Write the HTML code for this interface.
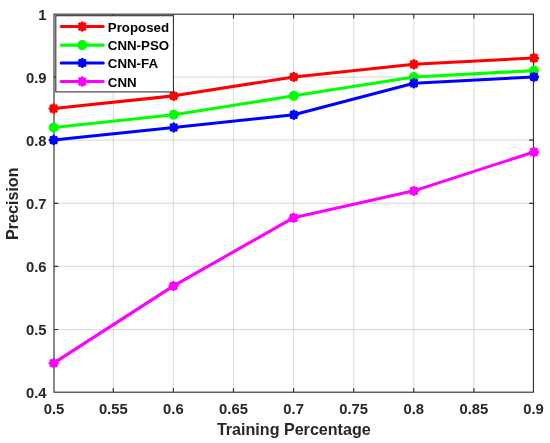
<!DOCTYPE html>
<html><head><meta charset="utf-8"><title>Precision vs Training Percentage</title>
<style>
html,body{margin:0;padding:0;background:#fff;}
body{width:550px;height:443px;overflow:hidden;}
svg{display:block;}
text{font-family:"Liberation Sans",Arial,Helvetica,sans-serif;font-weight:bold;fill:#262626;}
.tk{font-size:14.8px;}
.lb{font-size:16.1px;}
.lg{font-size:13.3px;fill:#000;}
</style></head><body>
<svg width="550" height="443" viewBox="0 0 550 443">
<rect width="550" height="443" fill="#fff"/>
<path d="M113.30 14.2V392.2M173.40 14.2V392.2M233.50 14.2V392.2M293.60 14.2V392.2M353.70 14.2V392.2M413.80 14.2V392.2M473.90 14.2V392.2" stroke="#262626" stroke-opacity="0.14" stroke-width="1.2" fill="none"/>
<path d="M54.0 329.54H533.45M54.0 266.42H533.45M54.0 203.30H533.45M54.0 140.18H533.45M54.0 77.06H533.45" stroke="#262626" stroke-opacity="0.14" stroke-width="1.2" fill="none"/>
<rect x="54.0" y="14.2" width="479.45" height="378.00" fill="none" stroke="#333333" stroke-width="1.15"/>
<path d="M113.30 392.2v-4.3M113.30 14.2v4.3M173.40 392.2v-4.3M173.40 14.2v4.3M233.50 392.2v-4.3M233.50 14.2v4.3M293.60 392.2v-4.3M293.60 14.2v4.3M353.70 392.2v-4.3M353.70 14.2v4.3M413.80 392.2v-4.3M413.80 14.2v4.3M473.90 392.2v-4.3M473.90 14.2v4.3M54.0 329.54h4.3M533.45 329.54h-4.3M54.0 266.42h4.3M533.45 266.42h-4.3M54.0 203.30h4.3M533.45 203.30h-4.3M54.0 140.18h4.3M533.45 140.18h-4.3M54.0 77.06h4.3M533.45 77.06h-4.3" stroke="#333333" stroke-width="1.15" fill="none"/>
<text class="tk" x="54.00" y="413.7" text-anchor="middle">0.5</text>
<text class="tk" x="113.30" y="413.7" text-anchor="middle">0.55</text>
<text class="tk" x="173.40" y="413.7" text-anchor="middle">0.6</text>
<text class="tk" x="233.50" y="413.7" text-anchor="middle">0.65</text>
<text class="tk" x="293.60" y="413.7" text-anchor="middle">0.7</text>
<text class="tk" x="353.70" y="413.7" text-anchor="middle">0.75</text>
<text class="tk" x="413.80" y="413.7" text-anchor="middle">0.8</text>
<text class="tk" x="473.90" y="413.7" text-anchor="middle">0.85</text>
<text class="tk" x="533.45" y="413.7" text-anchor="middle">0.9</text>
<text class="tk" x="46.5" y="397.90" text-anchor="end">0.4</text>
<text class="tk" x="46.5" y="335.24" text-anchor="end">0.5</text>
<text class="tk" x="46.5" y="272.12" text-anchor="end">0.6</text>
<text class="tk" x="46.5" y="209.00" text-anchor="end">0.7</text>
<text class="tk" x="46.5" y="145.88" text-anchor="end">0.8</text>
<text class="tk" x="46.5" y="82.76" text-anchor="end">0.9</text>
<text class="tk" x="46.5" y="19.90" text-anchor="end">1</text>
<text class="lb" x="293.8" y="434.8" text-anchor="middle">Training Percentage</text>
<text class="lb" transform="translate(18.2 203.7) rotate(-90)" text-anchor="middle">Precision</text>
<polyline points="53.65,108.49 173.72,95.86 293.80,76.92 413.88,64.29 533.95,57.98" fill="none" stroke="#ff0000" stroke-width="3.05" stroke-linejoin="round"/>
<path stroke="#ff0000" stroke-width="3.1" stroke-linecap="round" fill="none" d="M50.00 108.49H57.30M53.65 104.84V112.14M51.07 105.91L56.23 111.07M51.07 111.07L56.23 105.91"/>
<path stroke="#ff0000" stroke-width="3.1" stroke-linecap="round" fill="none" d="M170.07 95.86H177.37M173.72 92.21V99.51M171.14 93.28L176.31 98.44M171.14 98.44L176.31 93.28"/>
<path stroke="#ff0000" stroke-width="3.1" stroke-linecap="round" fill="none" d="M290.15 76.92H297.45M293.80 73.27V80.57M291.22 74.34L296.38 79.50M291.22 79.50L296.38 74.34"/>
<path stroke="#ff0000" stroke-width="3.1" stroke-linecap="round" fill="none" d="M410.23 64.29H417.53M413.88 60.64V67.94M411.29 61.71L416.46 66.87M411.29 66.87L416.46 61.71"/>
<path stroke="#ff0000" stroke-width="3.1" stroke-linecap="round" fill="none" d="M530.30 57.98H537.60M533.95 54.33V61.63M531.37 55.40L536.53 60.56M531.37 60.56L536.53 55.40"/>
<polyline points="53.65,127.43 173.72,114.80 293.80,95.86 413.88,76.92 533.95,70.61" fill="none" stroke="#00ff00" stroke-width="3.05" stroke-linejoin="round"/>
<circle cx="53.65" cy="127.43" r="5" fill="#00ff00"/>
<circle cx="173.72" cy="114.80" r="5" fill="#00ff00"/>
<circle cx="293.80" cy="95.86" r="5" fill="#00ff00"/>
<circle cx="413.88" cy="76.92" r="5" fill="#00ff00"/>
<circle cx="533.95" cy="70.61" r="5" fill="#00ff00"/>
<polyline points="53.65,140.06 173.72,127.43 293.80,114.80 413.88,83.23 533.95,76.92" fill="none" stroke="#0000ff" stroke-width="3.05" stroke-linejoin="round"/>
<path stroke="#0000ff" stroke-width="3.1" stroke-linecap="round" fill="none" d="M50.00 140.06H57.30M53.65 136.41V143.71M51.07 137.48L56.23 142.64M51.07 142.64L56.23 137.48"/>
<path stroke="#0000ff" stroke-width="3.1" stroke-linecap="round" fill="none" d="M170.07 127.43H177.37M173.72 123.78V131.08M171.14 124.85L176.31 130.01M171.14 130.01L176.31 124.85"/>
<path stroke="#0000ff" stroke-width="3.1" stroke-linecap="round" fill="none" d="M290.15 114.80H297.45M293.80 111.15V118.45M291.22 112.22L296.38 117.38M291.22 117.38L296.38 112.22"/>
<path stroke="#0000ff" stroke-width="3.1" stroke-linecap="round" fill="none" d="M410.23 83.23H417.53M413.88 79.58V86.88M411.29 80.65L416.46 85.81M411.29 85.81L416.46 80.65"/>
<path stroke="#0000ff" stroke-width="3.1" stroke-linecap="round" fill="none" d="M530.30 76.92H537.60M533.95 73.27V80.57M531.37 74.34L536.53 79.50M531.37 79.50L536.53 74.34"/>
<polyline points="53.65,363.10 173.50,285.85 293.60,217.70 413.85,190.85 534.00,152.00" fill="none" stroke="#ff00ff" stroke-width="3.05" stroke-linejoin="round"/>
<path stroke="#ff00ff" stroke-width="3.1" stroke-linecap="round" fill="none" d="M50.00 363.10H57.30M53.65 359.45V366.75M51.07 360.52L56.23 365.68M51.07 365.68L56.23 360.52"/>
<path stroke="#ff00ff" stroke-width="3.1" stroke-linecap="round" fill="none" d="M169.85 285.85H177.15M173.50 282.20V289.50M170.92 283.27L176.08 288.43M170.92 288.43L176.08 283.27"/>
<path stroke="#ff00ff" stroke-width="3.1" stroke-linecap="round" fill="none" d="M289.95 217.70H297.25M293.60 214.05V221.35M291.02 215.12L296.18 220.28M291.02 220.28L296.18 215.12"/>
<path stroke="#ff00ff" stroke-width="3.1" stroke-linecap="round" fill="none" d="M410.20 190.85H417.50M413.85 187.20V194.50M411.27 188.27L416.43 193.43M411.27 193.43L416.43 188.27"/>
<path stroke="#ff00ff" stroke-width="3.1" stroke-linecap="round" fill="none" d="M530.35 152.00H537.65M534.00 148.35V155.65M531.42 149.42L536.58 154.58M531.42 154.58L536.58 149.42"/>
<rect x="55.8" y="15.7" width="117.65" height="76.2" fill="#fff" stroke="#333333" stroke-width="1.1"/>
<path d="M61.2 26.55H103.2" stroke="#ff0000" stroke-width="3.05" stroke-linecap="round" fill="none"/>
<path stroke="#ff0000" stroke-width="3.1" stroke-linecap="round" fill="none" d="M78.55 26.55H85.85M82.20 22.90V30.20M79.62 23.97L84.78 29.13M79.62 29.13L84.78 23.97"/>
<text class="lg" x="107.8" y="31.55">Proposed</text>
<path d="M61.2 45.1H103.2" stroke="#00ff00" stroke-width="3.05" stroke-linecap="round" fill="none"/>
<circle cx="82.20" cy="45.10" r="5" fill="#00ff00"/>
<text class="lg" x="107.8" y="50.10">CNN-PSO</text>
<path d="M61.2 62.9H103.2" stroke="#0000ff" stroke-width="3.05" stroke-linecap="round" fill="none"/>
<path stroke="#0000ff" stroke-width="3.1" stroke-linecap="round" fill="none" d="M78.55 62.90H85.85M82.20 59.25V66.55M79.62 60.32L84.78 65.48M79.62 65.48L84.78 60.32"/>
<text class="lg" x="107.8" y="67.90">CNN-FA</text>
<path d="M61.2 81.5H103.2" stroke="#ff00ff" stroke-width="3.05" stroke-linecap="round" fill="none"/>
<path stroke="#ff00ff" stroke-width="3.1" stroke-linecap="round" fill="none" d="M78.55 81.50H85.85M82.20 77.85V85.15M79.62 78.92L84.78 84.08M79.62 84.08L84.78 78.92"/>
<text class="lg" x="107.8" y="86.50">CNN</text>
</svg>
</body></html>
